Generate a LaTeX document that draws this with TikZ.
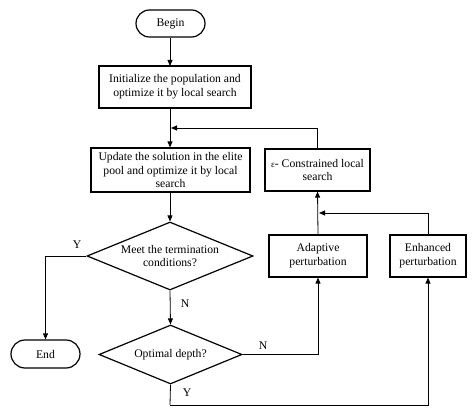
\documentclass[tikz,border=0pt]{standalone}
\usepackage{fontspec}
\setmainfont{Liberation Serif}
\usetikzlibrary{shapes.geometric,arrows.meta}
\begin{document}
\begin{tikzpicture}[x=1pt,y=-1pt,
  every node/.style={font=\fontsize{11.7}{13.7}\selectfont},
  box/.style={draw,line width=1.2pt,rectangle,inner sep=0pt,align=center},
  term/.style={draw,line width=1.2pt,rectangle,rounded corners=13.5pt,inner sep=0pt,minimum width=69pt,minimum height=27pt},
  dia/.style={draw,line width=1.2pt,diamond,inner sep=0pt},
  txt/.style={align=center,inner sep=0pt},
  lbl/.style={inner sep=0pt},
  arr/.style={line width=0.8pt,-{Triangle[length=6pt,width=5pt]}},
  ln/.style={line width=0.8pt}]
\useasboundingbox (0,0) rectangle (473,414);
\node[term] (begin) at (170.5,23.5) {Begin};
\node[box,minimum width=152pt,minimum height=42pt] (init) at (175,87) {Initialize the population and\\optimize it by local search};
\node[box,minimum width=159pt,minimum height=44pt] (update) at (170.5,170) {Update the solution in the elite\\pool and optimize it by local\\search};
\node[box,minimum width=105pt,minimum height=42pt] (eps) at (317.5,170) {{\fontsize{9}{10}\selectfont ε}- Constrained local\\search};
\node[dia,minimum width=166pt,minimum height=68pt] (d1) at (170,256) {};
\node[txt] (d1t) at (d1) {Meet the termination\\conditions?};
\node[dia,minimum width=143pt,minimum height=59pt] (d2) at (170.5,354.5) {};
\node[txt] (d2t) at (d2) {Optimal depth?};
\node[term,minimum height=28pt,rounded corners=14pt] (end) at (45.5,354) {End};
\node[box,minimum width=98pt,minimum height=42pt] (adapt) at (318,256) {Adaptive\\perturbation};
\node[box,minimum width=76pt,minimum height=42pt] (enh) at (428,256) {Enhanced\\perturbation};
\coordinate (j1) at (171,128);
\coordinate (j2) at (319,213);
\coordinate (j3) at (170,405);
\draw[arr] (begin.south -| 170,0) -- (170,66);
\draw[arr] (170,108) -- (update.north -| 170,0);
\draw[arr] (eps.north) |- (j1);
\draw[arr] (update.south -| d1.north) -- (d1.north);
\draw[arr] (d1.west) -| (end.north);
\draw[arr] (d1.south) -- (d2.north);
\draw[arr] (d2.east) -| (adapt.south);
\draw[arr] (adapt.north) -- (eps.south);
\draw[arr] (enh.north) |- (j2);
\draw[ln] (d2.south) -- (j3);
\draw[arr] (j3) -| (enh.south);
\node[lbl] (ly1) at (77,245) {Y};
\node[lbl] (ln1) at (185,304) {N};
\node[lbl] (ln2) at (263,346) {N};
\node[lbl] (ly2) at (187,393) {Y};
\end{tikzpicture}
\end{document}
